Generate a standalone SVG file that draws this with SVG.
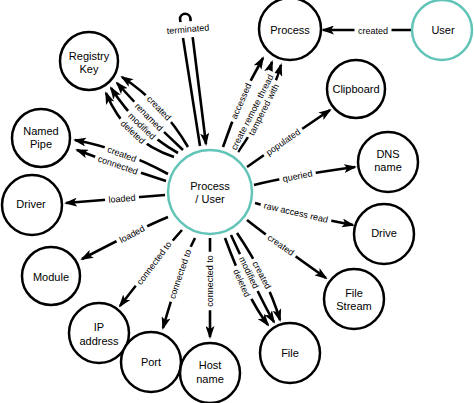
<svg xmlns="http://www.w3.org/2000/svg" width="474" height="403" viewBox="0 0 474 403">
<defs>
<style>
.edge{fill:none;stroke:#000;stroke-width:2.6;marker-end:url(#arr)}
.node{fill:#fff;stroke:#000;stroke-width:2.5}
.actor{fill:#fff;stroke:#62c4b8;stroke-width:2.5}
.nt{font-family:"Liberation Sans",Arial,Helvetica,sans-serif;font-size:11px;fill:#000;text-anchor:middle}
.lb{font-family:"Liberation Sans",Arial,Helvetica,sans-serif;font-size:9px;fill:#000;text-anchor:middle}
</style>
<marker id="arr" viewBox="0 0 13 9" refX="11" refY="4.5" markerWidth="13" markerHeight="9" markerUnits="userSpaceOnUse" orient="auto">
<path d="M0,0 L13,4.5 L0,9 L3,4.5 z" fill="#000"/>
</marker>
<mask id="gaps" maskUnits="userSpaceOnUse" x="0" y="0" width="474" height="403">
<rect width="474" height="403" fill="#fff"/>
<g fill="#000">
<rect x="-18.5" y="-5" width="37" height="10" transform="translate(159,108) rotate(46)"/>
<rect x="-21.25" y="-5" width="42.5" height="10" transform="translate(149,117) rotate(45)"/>
<rect x="-20.5" y="-5" width="41" height="10" transform="translate(142,126) rotate(44)"/>
<rect x="-18.25" y="-5" width="36.5" height="10" transform="translate(133,132) rotate(43)"/>
<rect x="-18.5" y="-5" width="37" height="10" transform="translate(122,154) rotate(20)"/>
<rect x="-24.25" y="-5" width="48.5" height="10" transform="translate(118,165) rotate(19)"/>
<rect x="-17" y="-5" width="34" height="10" transform="translate(122,198.5) rotate(-4.6)"/>
<rect x="-17" y="-5" width="34" height="10" transform="translate(132,234) rotate(-28)"/>
<rect x="-29.25" y="-5" width="58.5" height="10" transform="translate(154,263) rotate(-53)"/>
<rect x="-29.25" y="-5" width="58.5" height="10" transform="translate(180,274) rotate(-71)"/>
<rect x="-29.25" y="-5" width="58.5" height="10" transform="translate(210,281) rotate(-90)"/>
<rect x="-18.25" y="-5" width="36.5" height="10" transform="translate(242,283) rotate(66)"/>
<rect x="-20.5" y="-5" width="41" height="10" transform="translate(249,272.5) rotate(64)"/>
<rect x="-18.5" y="-5" width="37" height="10" transform="translate(262,275) rotate(62)"/>
<rect x="-18.5" y="-5" width="37" height="10" transform="translate(281,245) rotate(35)"/>
<rect x="-36.25" y="-5" width="72.5" height="10" transform="translate(296,212.5) rotate(13)"/>
<rect x="-18.5" y="-5" width="37" height="10" transform="translate(297.5,176) rotate(-11)"/>
<rect x="-23.25" y="-5" width="46.5" height="10" transform="translate(283,142) rotate(-35)"/>
<rect x="-22.5" y="-5" width="45" height="10" transform="translate(241,101) rotate(-66)"/>
<rect x="-45.25" y="-5" width="90.5" height="10" transform="translate(252,112) rotate(-63)"/>
<rect x="-31.75" y="-5" width="63.5" height="10" transform="translate(263.5,109.5) rotate(-63)"/>
<rect x="-18.5" y="-5" width="37" height="10" transform="translate(373,30.5)"/>
<rect x="-25" y="-8" width="50" height="16" transform="translate(188,29.5) rotate(-5)"/>
</g>
</mask>
</defs>
<rect width="474" height="403" fill="#fff"/>

<g id="connectors" mask="url(#gaps)">
<path class="edge" d="M188,147 Q163,104 122,77"/>
<path class="edge" d="M183,150 Q148,117.5 117,83"/>
<path class="edge" d="M178,153 Q139.5,131.5 111,88"/>
<path class="edge" d="M174,157 Q126,141 106,93"/>
<path class="edge" d="M168,174 Q122.5,149 75,140"/>
<path class="edge" d="M166,181 Q115,164.5 77,150"/>
<path class="edge" d="M165,195 L66,203"/>
<path class="edge" d="M168,217 Q139,229 82,259"/>
<path class="edge" d="M182,230 Q157,258 120,306"/>
<path class="edge" d="M195,238 Q181,265 163,328"/>
<path class="edge" d="M210,238 L210,337"/>
<path class="edge" d="M225,238 Q247,298 268,325"/>
<path class="edge" d="M231,235 Q264,306 274,322"/>
<path class="edge" d="M237,233 Q267,277 280,320"/>
<path class="edge" d="M247,220 Q273.5,241 326,278"/>
<path class="edge" d="M255,203 Q286,212 353,225"/>
<path class="edge" d="M254,185 Q289.5,176 355,167"/>
<path class="edge" d="M247,167 Q277.5,145.5 330,110"/>
<path class="edge" d="M223,147 Q239,99.5 263,58"/>
<path class="edge" d="M230,151 Q253,117.5 272,62"/>
<path class="edge" d="M238,152 Q267.5,110.5 281,65"/>
<path class="edge" d="M411,30 L323,30"/>
<path class="edge" d="M200,146 L180,19 A5.2,5.2 0 0 1 190.4,19 L206,144"/>
</g>

<g id="edge-labels">
<text class="lb" transform="translate(159,108) rotate(46)" dy="3.2">created</text>
<text class="lb" transform="translate(149,117) rotate(45)" dy="3.2">renamed</text>
<text class="lb" transform="translate(142,126) rotate(44)" dy="3.2">modified</text>
<text class="lb" transform="translate(133,132) rotate(43)" dy="3.2">deleted</text>
<text class="lb" transform="translate(122,154) rotate(20)" dy="3.2">created</text>
<text class="lb" transform="translate(118,165) rotate(19)" dy="3.2">connected</text>
<text class="lb" transform="translate(122,198.5) rotate(-4.6)" dy="3.2">loaded</text>
<text class="lb" transform="translate(132,234) rotate(-28)" dy="3.2">loaded</text>
<text class="lb" transform="translate(154,263) rotate(-53)" dy="3.2">connected to</text>
<text class="lb" transform="translate(180,274) rotate(-71)" dy="3.2">connected to</text>
<text class="lb" transform="translate(210,281) rotate(-90)" dy="3.2">connected to</text>
<text class="lb" transform="translate(242,283) rotate(66)" dy="3.2">deleted</text>
<text class="lb" transform="translate(249,272.5) rotate(64)" dy="3.2">modified</text>
<text class="lb" transform="translate(262,275) rotate(62)" dy="3.2">created</text>
<text class="lb" transform="translate(281,245) rotate(35)" dy="3.2">created</text>
<text class="lb" transform="translate(296,212.5) rotate(13)" dy="3.2">raw access read</text>
<text class="lb" transform="translate(297.5,176) rotate(-11)" dy="3.2">queried</text>
<text class="lb" transform="translate(283,142) rotate(-35)" dy="3.2">populated</text>
<text class="lb" transform="translate(241,101) rotate(-66)" dy="3.2">accessed</text>
<text class="lb" transform="translate(252,112) rotate(-63)" dy="3.2">create remote thread</text>
<text class="lb" transform="translate(263.5,109.5) rotate(-63)" dy="3.2">tampered with</text>
<text class="lb" transform="translate(373,30.5)" dy="3.2">created</text>
<text class="lb" transform="translate(188,29) rotate(-5)" dy="3.2">terminated</text>
</g>

<g id="node-process-user"><circle class="actor" cx="210" cy="192" r="42"/><text class="nt" x="210" y="190">Process</text><text class="nt" x="210" y="203">/ User</text></g>
<g id="node-registry-key"><circle class="node" cx="89" cy="61" r="29"/><text class="nt" x="89" y="60">Registry</text><text class="nt" x="89" y="73">Key</text></g>
<g id="node-named-pipe"><circle class="node" cx="41" cy="138" r="29"/><text class="nt" x="41" y="135">Named</text><text class="nt" x="41" y="148">Pipe</text></g>
<g id="node-driver"><circle class="node" cx="32" cy="205" r="30"/><text class="nt" x="31" y="208">Driver</text></g>
<g id="node-module"><circle class="node" cx="51" cy="276" r="29"/><text class="nt" x="51" y="281">Module</text></g>
<g id="node-ip-address"><circle class="node" cx="99" cy="333" r="30"/><text class="nt" x="99" y="331">IP</text><text class="nt" x="99" y="345">address</text></g>
<g id="node-port"><circle class="node" cx="151" cy="362" r="30"/><text class="nt" x="151" y="366">Port</text></g>
<g id="node-host-name"><circle class="node" cx="210" cy="373" r="30"/><text class="nt" x="210" y="369">Host</text><text class="nt" x="210" y="383">name</text></g>
<g id="node-file"><circle class="node" cx="290" cy="353" r="30"/><text class="nt" x="290" y="357">File</text></g>
<g id="node-file-stream"><circle class="node" cx="354" cy="299" r="30"/><text class="nt" x="354" y="297">File</text><text class="nt" x="354" y="310">Stream</text></g>
<g id="node-drive"><circle class="node" cx="384" cy="234" r="30"/><text class="nt" x="384" y="237">Drive</text></g>
<g id="node-dns-name"><circle class="node" cx="388" cy="162" r="30"/><text class="nt" x="388" y="158">DNS</text><text class="nt" x="388" y="171">name</text></g>
<g id="node-clipboard"><circle class="node" cx="356" cy="89" r="29"/><text class="nt" x="356" y="93">Clipboard</text></g>
<g id="node-process"><circle class="node" cx="290" cy="29" r="31"/><text class="nt" x="290" y="34">Process</text></g>
<g id="node-user"><circle class="actor" cx="442" cy="30" r="30"/><text class="nt" x="443" y="34">User</text></g>
</svg>
